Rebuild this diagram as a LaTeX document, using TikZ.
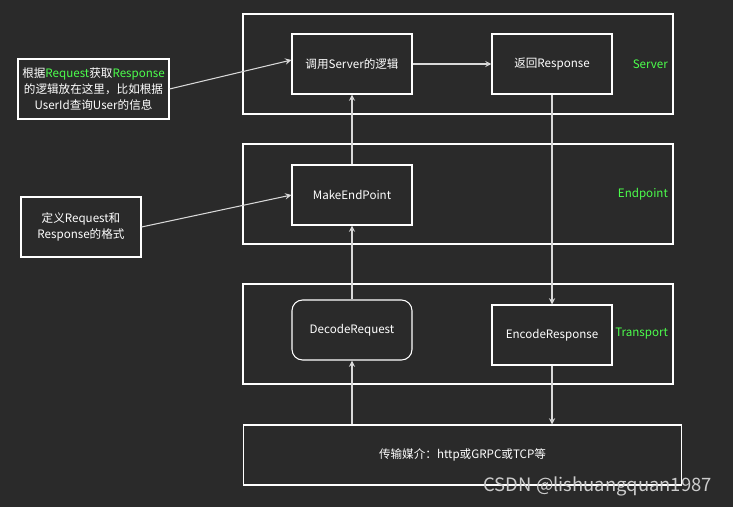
\documentclass[tikz,border=0pt]{standalone}
\usepackage{fontspec}
\setmainfont{Noto Sans CJK SC}
\usetikzlibrary{positioning}
\definecolor{bg}{HTML}{2A2A2A}
\definecolor{hl}{HTML}{4CFF4C}
\newcommand{\hlt}[1]{\textcolor{hl}{#1}}
\begin{document}
\begin{tikzpicture}[x=0.02cm, y=-0.02cm, font=\fontsize{6.6}{9}\selectfont,
  layer/.style = {draw=white, line width=0.6pt, inner sep=0pt},
  box/.style = {draw=white, line width=0.6pt, text=white, minimum width=2.4cm, minimum height=1.2cm, inner sep=1pt},
  note/.style = {box, align=center},
  tag/.style = {text=hl, anchor=east, inner sep=1pt, font=\fontsize{6.6}{8}\selectfont},
  link/.style = {->, >=stealth, draw=white!85!black, line width=0.6pt}]
\fill[bg] (0,0) rectangle (733,507);
\useasboundingbox (0,0) rectangle (733,507);
% layers
\draw[layer] (243,14) rectangle (673,114);
\draw[layer] (243,144) rectangle (673,244);
\draw[layer] (243,284) rectangle (673,384);
\node[draw=white, line width=0.6pt, text=white, minimum width=8.78cm, minimum height=1.2cm] (medium) at (462.5,455) {传输媒介：http或GRPC或TCP等};
\node[tag] at (670,64) {Server};
\node[tag] at (670,194) {Endpoint};
\node[tag] at (670,334) {Transport};
% boxes
\node[box] (logic) at (352,64) {调用Server的逻辑};
\node[box] (resp) at (552,64) {返回Response};
\node[box] (make) at (352,195) {MakeEndPoint};
\node[box, rounded corners=6pt] (decode) at (352,330) {DecodeRequest};
\node[box] (encode) at (552,335) {EncodeResponse};
% notes
\node[note, minimum width=3.02cm] (note1) at (93.5,89) {根据\hlt{Request}获取\hlt{Response}\\的逻辑放在这里，比如根据\\UserId查询User的信息};
\node[note] (note2) at (81,227) {定义Request和\\Response的格式};
% connectors
\draw[link] (note1.east) -- ([yshift=0.08cm]logic.west);
\draw[link] (note2.east) -- (make.west);
\draw[link] (logic) -- (resp);
\draw[link] (resp) -- (encode);
\draw[link] (encode.south) -- (encode.south |- medium.north);
\draw[link] (decode.south |- medium.north) -- (decode.south);
\draw[link] (decode) -- (make);
\draw[link] (make) -- (logic);
\node[text=white!80!black, anchor=east, font=\fontsize{10.5}{12}\selectfont] at (718,486) {CSDN @lishuangquan1987};
\end{tikzpicture}
\end{document}
